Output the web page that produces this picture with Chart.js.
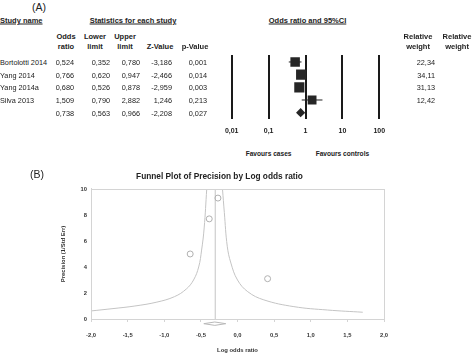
<!DOCTYPE html>
<html><head><meta charset="utf-8">
<script src="https://cdn.jsdelivr.net/npm/chart.js@4.4.0/dist/chart.umd.min.js"></script>
<style>
html,body{margin:0;padding:0;background:#fff;width:474px;height:354px;overflow:hidden;}
#wrap{position:relative;width:474px;height:354px;font-family:"Liberation Sans",Arial,sans-serif;color:#222;}
.t{position:absolute;white-space:nowrap;line-height:1;color:#222;-webkit-font-smoothing:antialiased;text-decoration-color:#222;}
canvas{position:absolute;}
</style></head><body><div id="wrap">
<canvas id="forest" width="230" height="100" style="left:200px;top:40px;width:230px;height:100px"></canvas>
<canvas id="funnel" width="474" height="194" style="left:0px;top:160px;width:474px;height:194px"></canvas>
</div>
<script>
// ---------- data (panel A) ----------
const studyNames = ['Bortolotti 2014', 'Yang 2014', 'Yang 2014a', 'Silva 2013', ''];
const oddsRatio  = [0.524, 0.766, 0.680, 1.509, 0.738];
const lowerLimit = [0.352, 0.620, 0.526, 0.790, 0.563];
const upperLimit = [0.780, 0.947, 0.878, 2.882, 0.966];
const zValue     = [-3.186, -2.466, -2.959, 1.246, -2.208];
const pValue     = [0.001, 0.014, 0.003, 0.213, 0.027];
const relWeight  = [22.34, 34.11, 31.13, 12.42];
const forestTicks = [0.01, 0.1, 1, 10, 100];
const forestTickLabels = ['0,01', '0,1', '1', '10', '100'];

// ---------- data (panel B) ----------
const studyLogOR   = [-0.646, -0.267, -0.386, 0.411];
const studyPrec    = [5.0, 9.3, 7.7, 3.1];
const combinedLogOR = -0.304;
const precRange = [0, 10];
const diamondX = [-0.46, -0.31, -0.16, -0.31, -0.46];
const diamondY = [-0.36, -0.23, -0.36, -0.49, -0.36];
const funnelLeftX  = [-2.00, -1.70, -1.40, -1.10, -0.86, -0.70, -0.60, -0.53, -0.49, -0.455, -0.42];
const funnelLeftY  = [0.62, 0.80, 1.00, 1.30, 1.72, 2.30, 3.0, 4.0, 5.3, 7.0, 10];
const funnelRightX = [-0.205, -0.18, -0.14, -0.09, 0.0, 0.14, 0.36, 0.77, 1.23, 1.71];
const funnelRightY = [10, 8.2, 5.6, 4.3, 3.0, 2.1, 1.47, 0.95, 0.69, 0.52];

const FONT = '"Liberation Sans", Arial, sans-serif';
const wrap = document.getElementById('wrap');
function addText(str, x, y, align, font, underline) {
  const d = document.createElement('div');
  d.className = 't';
  d.textContent = str;
  d.style.font = font + ' ' + FONT;
  d.style.left = x + 'px';
  d.style.top = y + 'px';
  const tx = align === 'center' ? '-50%' : (align === 'right' ? '-100%' : '0');
  d.style.transform = 'translate(' + tx + ',-50%)';
  if (underline) d.style.textDecoration = 'underline';
  wrap.appendChild(d);
}
const fmt3 = v => v.toFixed(3).replace('.', ',');
const fmt2 = v => v.toFixed(2).replace('.', ',');
const fmt1 = v => v.toFixed(1).replace('.', ',');

Chart.defaults.font.family = FONT;
Chart.defaults.color = '#222';

// ---------- Panel A forest plot ----------
const forestTop = 40, forestLeft = 200;
const ciSets = oddsRatio.slice(0, 4).map((_, i) => ({
  type: 'line',
  data: [{x: lowerLimit[i], y: i}, {x: upperLimit[i], y: i}],
  borderColor: '#222', borderWidth: 1, pointRadius: 0, order: 2
}));
const forest = new Chart(document.getElementById('forest'), {
  type: 'scatter',
  data: {
    datasets: [
      ...ciSets,
      {
        data: oddsRatio.slice(0, 4).map((v, i) => ({x: v, y: i})),
        pointStyle: 'rect',
        pointRadius: relWeight.map(w => 5.6 + w * 0.05),
        backgroundColor: '#262626', borderColor: '#262626', borderWidth: 0, order: 0
      },
      {
        data: [{x: oddsRatio[4], y: 4}],
        pointStyle: 'rectRot', pointRadius: 4.6,
        backgroundColor: '#262626', borderColor: '#262626', borderWidth: 0, order: 0
      }
    ]
  },
  options: {
    responsive: false, animation: false,
    layout: {padding: {left: 31.7, right: 50.7, top: 15, bottom: 0}},
    plugins: {legend: {display: false}, tooltip: {enabled: false}},
    scales: {
      x: {
        type: 'logarithmic', min: 0.01, max: 100,
        afterBuildTicks: s => { s.ticks = forestTicks.map(v => ({value: v})); },
        afterFit: s => { s.height = 21; },
        grid: {color: '#1a1a1a', lineWidth: 2, drawTicks: false},
        border: {display: false},
        ticks: {
          font: {size: 7, weight: 'bold'}, color: '#222', padding: 7.8, maxRotation: 0, autoSkip: false,
          callback: (v) => { const k = forestTicks.indexOf(v); return k >= 0 ? forestTickLabels[k] : ''; }
        }
      },
      y: {type: 'linear', min: -0.55, max: 4.5, reverse: true, display: false}
    }
  }
});

// ---------- Panel A table text ----------
const H = 'bold 7.5px', D = '7.3px';
addText('(A)', 32, 7, 'left', '10.5px');
addText('Study name', 0, 20, 'left', H, true);
addText('Statistics for each study', 133, 20, 'center', H, true);
addText('Odds ratio and 95%CI', 307.5, 20, 'center', H, true);
addText('Odds', 66, 36, 'center', H); addText('ratio', 66, 46, 'center', H);
addText('Lower', 95, 36, 'center', H); addText('limit', 95, 46, 'center', H);
addText('Upper', 125, 36, 'center', H); addText('limit', 125, 46, 'center', H);
addText('Z-Value', 160, 46, 'center', H);
addText('p-Value', 195, 46, 'center', H);
addText('Relative', 418, 36, 'center', H); addText('weight', 418, 46, 'center', H);
addText('Relative', 457, 36, 'center', H); addText('weight', 457, 46, 'center', H);
const ys = forest.scales.y;
studyNames.forEach((name, i) => {
  const y = forestTop + ys.getPixelForValue(i);
  if (name) addText(name, 0, y, 'left', D);
  addText(fmt3(oddsRatio[i]), 74, y, 'right', D);
  addText(fmt3(lowerLimit[i]), 110, y, 'right', D);
  addText(fmt3(upperLimit[i]), 140, y, 'right', D);
  addText(fmt3(zValue[i]), 172, y, 'right', D);
  addText(fmt3(pValue[i]), 207, y, 'right', D);
  if (i < relWeight.length) addText(fmt2(relWeight[i]), 435, y, 'right', D);
});
const xs = forest.scales.x;
addText('Favours cases', forestLeft + xs.getPixelForValue(0.1), 153, 'center', 'bold 6.6px');
addText('Favours controls', forestLeft + xs.getPixelForValue(10), 153, 'center', 'bold 6.6px');
addText('(B)', 30, 174, 'left', '10.5px');

// ---------- Panel B funnel plot ----------
const frame = {
  id: 'frame',
  afterDraw(chart) {
    const {ctx, chartArea: a} = chart;
    ctx.save();
    ctx.strokeStyle = '#d4d4d4'; ctx.lineWidth = 1;
    ctx.strokeRect(Math.round(a.left) + 0.5, Math.round(a.top) + 0.5, Math.round(a.right - a.left), Math.round(a.bottom - a.top));
    ctx.restore();
  }
};
const gray = '#c4c4c4';
new Chart(document.getElementById('funnel'), {
  type: 'scatter',
  data: {
    datasets: [
      {data: studyLogOR.map((x, i) => ({x, y: studyPrec[i]})), pointStyle: 'circle', pointRadius: 3,
       backgroundColor: 'rgba(0,0,0,0)', borderColor: '#b0b0b0', borderWidth: 1, order: 0},
      {type: 'line', data: funnelLeftX.map((x, i) => ({x, y: funnelLeftY[i]})), borderColor: gray, borderWidth: 1,
       pointRadius: 0, tension: 0.4, order: 1},
      {type: 'line', data: funnelRightX.map((x, i) => ({x, y: funnelRightY[i]})), borderColor: gray, borderWidth: 1,
       pointRadius: 0, tension: 0.4, order: 1},
      {type: 'line', data: precRange.map(y => ({x: combinedLogOR, y})), borderColor: gray, borderWidth: 1,
       pointRadius: 0, order: 1},
      {type: 'line', data: diamondX.map((x, i) => ({x, y: diamondY[i]})), borderColor: '#b8b8b8', borderWidth: 1,
       pointRadius: 0, clip: false, order: 1}
    ]
  },
  options: {
    responsive: false, animation: false,
    layout: {padding: {left: 55, right: 90, top: 0, bottom: 0}},
    plugins: {
      legend: {display: false}, tooltip: {enabled: false},
      title: {display: true, text: 'Funnel Plot of Precision by Log odds ratio', color: '#222',
              font: {size: 8.3, weight: 'bold'}, padding: {top: 12, bottom: 7}}
    },
    scales: {
      x: {
        type: 'linear', min: -2, max: 2,
        afterFit: s => { s.height = 35; },
        grid: {display: true, drawOnChartArea: false, drawTicks: true, tickLength: 3, color: '#d4d4d4'},
        border: {display: true, color: '#d4d4d4'},
        ticks: {stepSize: 0.5, font: {size: 5.8, weight: 'bold'}, color: '#333', padding: 10.4, maxRotation: 0,
                callback: v => fmt1(v)},
        title: {display: true, text: 'Log odds ratio', font: {size: 5.9, weight: 'bold'}, color: '#333',
                padding: {top: 0, bottom: 0}}
      },
      y: {
        type: 'linear', min: 0, max: 10,
        afterFit: s => { s.width = 36; },
        grid: {display: false, drawTicks: false, tickLength: 0},
        border: {display: true, color: '#d4d4d4'},
        ticks: {stepSize: 2, font: {size: 5.8, weight: 'bold'}, color: '#333', padding: 4},
        title: {display: true, text: 'Precision (1/Std Err)', font: {size: 5.9, weight: 'bold'}, color: '#333',
                padding: {top: 4.4, bottom: 0}}
      }
    }
  },
  plugins: [frame]
});
</script>
</body></html>
